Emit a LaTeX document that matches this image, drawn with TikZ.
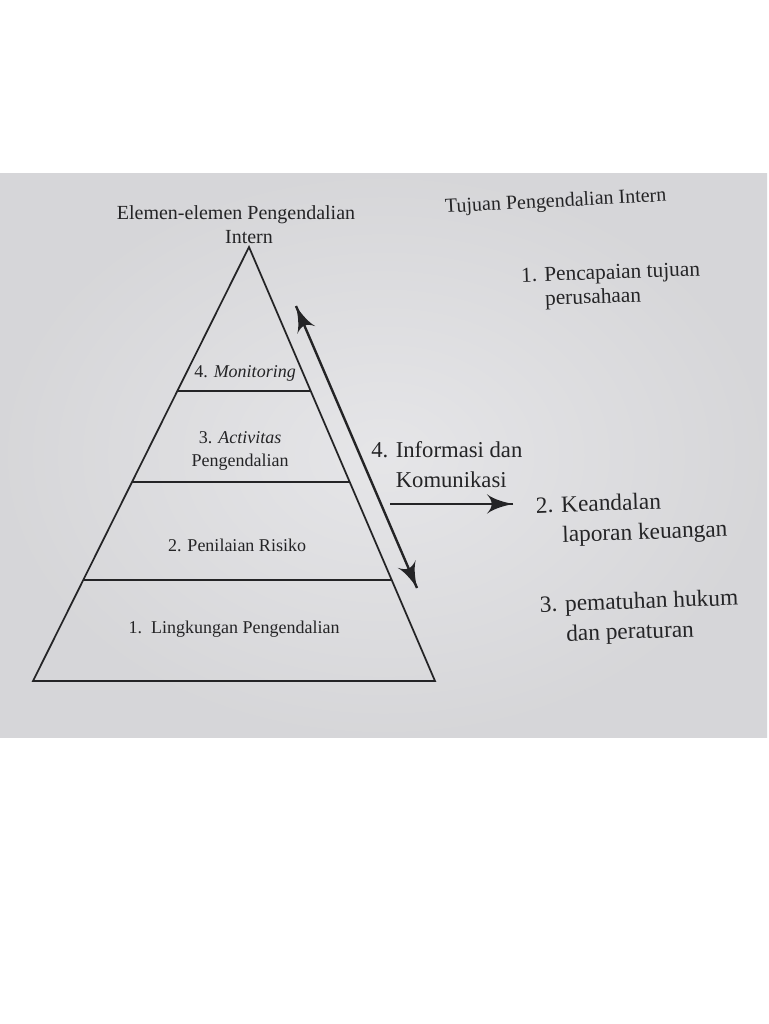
\documentclass[tikz,border=0pt]{standalone}
\usepackage{fontspec}
\setmainfont{Liberation Serif}
\usepackage{tikz}
\usetikzlibrary{arrows}
\usetikzlibrary{decorations.markings}
\usetikzlibrary{calc}
\tikzset{->/.style = {decoration={markings,
                                  mark=at position 1 with {\arrow[scale=2.4]{latex'}}},
                      postaction={decorate}}}
\tikzset{<->/.style = {decoration={markings,
                                   mark=at position 0 with {\arrowreversed[scale=2.4]{latex'}},
                                   mark=at position 1 with {\arrow[scale=2.4]{latex'}}},
                       postaction={decorate}}}
\definecolor{ink}{rgb}{0.14, 0.14, 0.15}
\definecolor{paperlight}{rgb}{0.90, 0.90, 0.91}
\definecolor{paperdark}{rgb}{0.84, 0.84, 0.85}
\tikzset{pyramid/.style = {draw=ink, line width=1.3pt},
         arrowline/.style = {draw=ink, fill=ink, line width=1.8pt},
         lbl/.style = {inner sep=0pt, text=ink, font=\fontsize{13.5}{17}\selectfont},
         hdr/.style = {inner sep=0pt, text=ink, font=\fontsize{15}{18}\selectfont},
         goal/.style = {inner sep=0pt, text=ink, align=left, font=\fontsize{17.5}{22.5}\selectfont}}

\begin{document}
\begin{tikzpicture}[x=0.75pt, y=-0.75pt]
    \fill [white] (0, 0) rectangle (768, 1024);
    \useasboundingbox (0, 0) rectangle (768, 1024);
    \shade [inner color=paperlight, outer color=paperdark] (0, 173) rectangle (767, 737);

    % pyramid
    \coordinate (apex) at (249, 247);
    \coordinate (bl) at (33, 681);
    \coordinate (br) at (435, 681);
    \draw [pyramid] (apex) -- (bl) -- (br) -- cycle;
    \draw [pyramid] ($(apex)!0.332!(bl)$) -- ($(apex)!0.332!(br)$);
    \draw [pyramid] ($(apex)!0.541!(bl)$) -- ($(apex)!0.541!(br)$);
    \draw [pyramid] ($(apex)!0.767!(bl)$) -- ($(apex)!0.767!(br)$);

    \node (elemen) [hdr, anchor=base] at (236, 219) {Elemen-elemen Pengendalian};
    \node (intern) [hdr, anchor=base] at (249, 243) {Intern};
    \node (monitor) [lbl, anchor=base] at (245, 377) {4. \textit{Monitoring}};
    \node (aktivitas) [lbl, anchor=base, align=center] at (240, 466) {3. \textit{Activitas}\\Pengendalian};
    \node (risiko) [lbl, anchor=base] at (237, 551) {2. Penilaian Risiko};
    \node (lingkungan) [lbl, anchor=base] at (234, 633) {1.\ \ Lingkungan Pengendalian};

    % tujuan
    \node (tujuan) [hdr, anchor=base, rotate=3] at (556, 207) {Tujuan Pengendalian Intern};
    \node (capai) [goal, anchor=base west, rotate=2, font=\fontsize{16}{18}\selectfont] at (522, 306) {1. Pencapaian tujuan\\\phantom{1. }perusahaan};
    \node (andal) [goal, anchor=base west, rotate=2] at (537, 543) {2. Keandalan\\\phantom{2. }laporan keuangan};
    \node (patuh) [goal, anchor=base west, rotate=2] at (541, 642) {3. pematuhan hukum\\\phantom{3. }dan peraturan};
    \node (info) [goal, anchor=base west, font=\fontsize{17}{22.5}\selectfont] at (371, 487) {4. Informasi dan\\\phantom{4. }Komunikasi};

    \coordinate (infotop) at (296, 306);
    \coordinate (infobot) at (417, 588);
    \coordinate (flowstart) at (390, 504);
    \coordinate (flowend) at (513, 504);
    \draw [<->, arrowline] (infotop) -- (infobot);
    \draw [->, arrowline] (flowstart) -- (flowend);
\end{tikzpicture}
\end{document}
